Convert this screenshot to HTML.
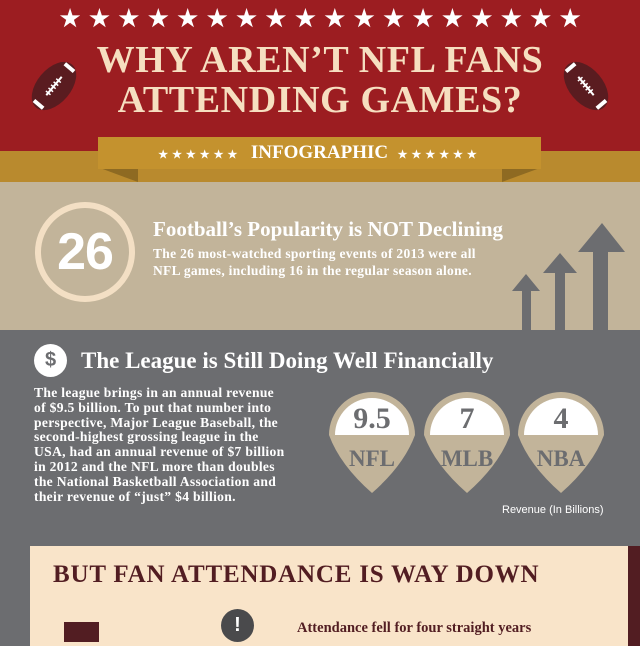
<!DOCTYPE html>
<html><head><meta charset="utf-8"><style>
*{margin:0;padding:0;box-sizing:border-box}
body{width:640px;height:640px;overflow:hidden;position:relative;background:#6c6d70;font-family:"Liberation Serif",serif}
.a{position:absolute;white-space:nowrap}
.slab{font-family:"Liberation Serif",serif;font-weight:bold}
</style></head><body>
<div class="a" style="left:0;top:0;width:640px;height:152px;background:#9c1d21"></div>
<div class="a" style="left:0;top:151px;width:640px;height:32px;background:#b98a2e"></div>
<div class="a" style="left:0;top:182px;width:640px;height:148px;background:#c2b49a"></div>
<div class="a slab" style="left:0;top:6px;width:640px;text-align:center;color:#fff;font-size:23px;letter-spacing:8.8px;padding-left:9px">★★★★★★★★★★★★★★★★★★</div>
<div class="a slab" style="left:60px;top:40px;width:520px;text-align:center;color:#f6dfc0;font-size:38px;line-height:40px;letter-spacing:0.6px">WHY AREN’T NFL FANS<br>ATTENDING GAMES?</div>
<svg class="a" style="left:0;top:50px" width="640" height="100">
<g transform="translate(54,36) rotate(-50)"><ellipse rx="28" ry="17" fill="#5a1c20"/><path d="M-24,-6 L-24,6 M24,-6 L24,6" stroke="#fff" stroke-width="4"/><path d="M-12,0 L12,0" stroke="#fff" stroke-width="2"/><path d="M-9,-3v6M-5,-3v6M-1,-3v6M3,-3v6M7,-3v6" stroke="#fff" stroke-width="1.5"/></g>
<g transform="translate(586,36) rotate(50)"><ellipse rx="28" ry="17" fill="#5a1c20"/><path d="M-24,-6 L-24,6 M24,-6 L24,6" stroke="#fff" stroke-width="4"/><path d="M-12,0 L12,0" stroke="#fff" stroke-width="2"/><path d="M-9,-3v6M-5,-3v6M-1,-3v6M3,-3v6M7,-3v6" stroke="#fff" stroke-width="1.5"/></g>
</svg>
<svg class="a" style="left:0;top:130px" width="640" height="60">
<polygon points="100,38 138,38 138,52" fill="#8e6a22"/><polygon points="540,38 502,38 502,52" fill="#8e6a22"/>
<rect x="98" y="7" width="443" height="32" fill="#c4922e"/>
</svg>
<div class="a slab" style="left:98px;top:141px;width:443px;text-align:center;color:#fff;font-size:19px;line-height:24px"><span style="font-size:11px;letter-spacing:4px">★★★★★★</span>&nbsp;&nbsp;INFOGRAPHIC&nbsp;&nbsp;<span style="font-size:11px;letter-spacing:4px">★★★★★★</span></div>
<div class="a" style="left:35px;top:202px;width:100px;height:100px;border-radius:50%;border:6px solid #f3dfc4"></div>
<div class="a" style="left:35px;top:222px;width:100px;text-align:center;color:#fff;font-family:'Liberation Sans',sans-serif;font-weight:bold;font-size:52px;line-height:60px;letter-spacing:-1px">26</div>
<div class="a slab" style="left:153px;top:217px;color:#fff;font-size:21px">Football’s Popularity is NOT Declining</div>
<div class="a slab" style="left:153px;top:245px;color:#fff;font-size:13.5px;line-height:17px;letter-spacing:0.3px">The 26 most-watched sporting events of 2013 were all<br>NFL games, including 16 in the regular season alone.</div>
<svg class="a" style="left:0;top:0" width="640" height="335">
<polygon points="602,223 625,252 608,252 608,330 593,330 593,252 578,252" fill="#6c6d70"/>
<polygon points="560,253 577,273 565,273 565,330 555,330 555,273 543,273" fill="#6c6d70"/>
<polygon points="526,274 540,291 531,291 531,330 522,330 522,291 512,291" fill="#6c6d70"/>
</svg>
<div class="a" style="left:34px;top:344px;width:33px;height:33px;border-radius:50%;background:#fff;color:#6c6d70;font-family:'Liberation Sans',sans-serif;font-weight:bold;font-size:20px;text-align:center;line-height:33px">$</div>
<div class="a slab" style="left:81px;top:348px;color:#fff;font-size:23px">The League is Still Doing Well Financially</div>
<div class="a slab" style="left:34px;top:386px;color:#fff;font-size:13.6px;line-height:14.8px;letter-spacing:0.3px">The league brings in an annual revenue<br>of $9.5 billion. To put that number into<br>perspective, Major League Baseball, the<br>second-highest grossing league in the<br>USA, had an annual revenue of $7 billion<br>in 2012 and the NFL more than doubles<br>the National Basketball Association and<br>their revenue of “just” $4 billion.</div>
<svg class="a" style="left:320px;top:380px" width="320" height="120">
<defs><clipPath id="c"><circle r="37"/></clipPath></defs>
<g font-family="Liberation Serif" font-weight="bold" text-anchor="middle" fill="#6c6d70">
<g transform="translate(52,55)"><path d="M-43,0 A43,43 0 1 1 43,0 Q32,30 0,58 Q-32,30 -43,0Z" fill="#c2b49a"/><g clip-path="url(#c)"><rect x="-40" y="-40" width="80" height="40" fill="#fff"/></g><text y="-7" font-size="30">9.5</text><text y="31" font-size="23">NFL</text></g>
<g transform="translate(147,55)"><path d="M-43,0 A43,43 0 1 1 43,0 Q32,30 0,58 Q-32,30 -43,0Z" fill="#c2b49a"/><g clip-path="url(#c)"><rect x="-40" y="-40" width="80" height="40" fill="#fff"/></g><text y="-7" font-size="30">7</text><text y="31" font-size="23">MLB</text></g>
<g transform="translate(241,55)"><path d="M-43,0 A43,43 0 1 1 43,0 Q32,30 0,58 Q-32,30 -43,0Z" fill="#c2b49a"/><g clip-path="url(#c)"><rect x="-40" y="-40" width="80" height="40" fill="#fff"/></g><text y="-7" font-size="30">4</text><text y="31" font-size="23">NBA</text></g>
</g></svg>
<div class="a" style="left:502px;top:504px;color:#fff;font-family:'Liberation Sans',sans-serif;font-size:11px">Revenue (In Billions)</div>
<div class="a" style="left:30px;top:546px;width:598px;height:100px;background:#f9e4c9"></div>
<div class="a" style="left:628px;top:546px;width:12px;height:100px;background:#521d22"></div>
<div class="a slab" style="left:53px;top:561px;color:#521d22;font-size:25px;letter-spacing:0.8px">BUT FAN ATTENDANCE IS WAY DOWN</div>
<div class="a" style="left:64px;top:622px;width:35px;height:20px;background:#521d22"></div>
<div class="a" style="left:221px;top:609px;width:33px;height:33px;border-radius:50%;background:#4a4a4c;color:#fff;font-family:'Liberation Sans',sans-serif;font-weight:bold;font-size:20px;text-align:center;line-height:33px">!</div>
<div class="a slab" style="left:297px;top:620px;color:#521d22;font-size:14.5px">Attendance fell for four straight years</div>
</body></html>
